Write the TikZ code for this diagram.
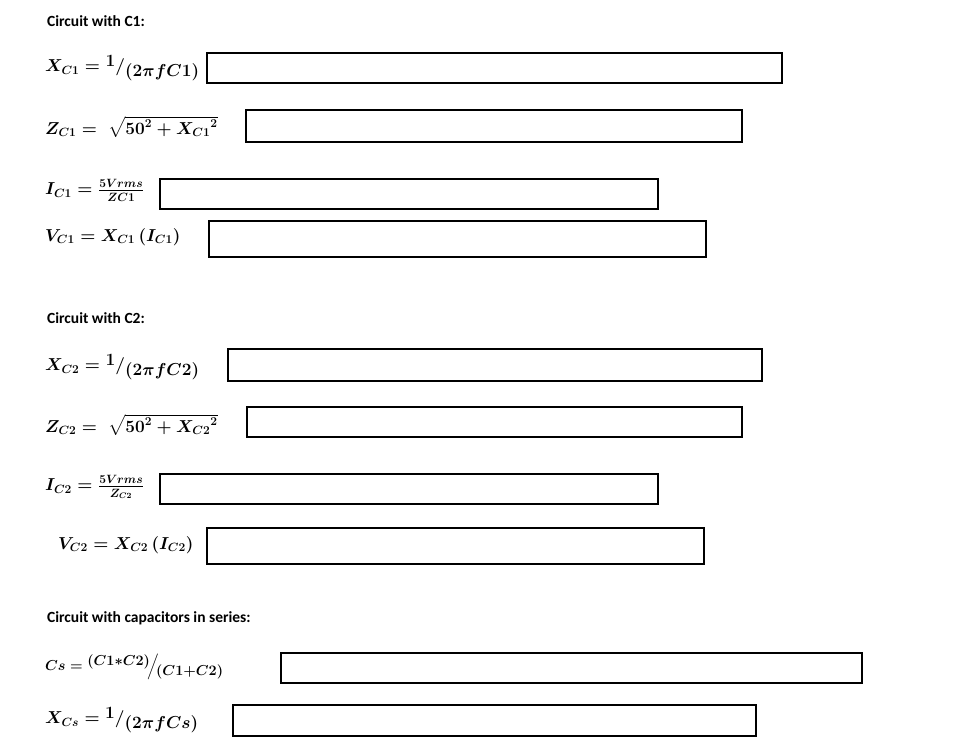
\documentclass[tikz,border=0pt]{standalone}
\usepackage{fontspec}
\usepackage{amsmath}
\newfontfamily\calib{Carlito}
\newcommand{\upp}[1]{\raisebox{5pt}{$\textstyle #1$}}
\newcommand{\dnn}[1]{\raisebox{-5pt}{$\textstyle #1$}}
\begin{document}
\begin{tikzpicture}[x=1pt,y=-1pt,
  ansbox/.style={draw=black,line width=1.6pt},
  head/.style={anchor=west,font=\calib\bfseries\fontsize{15.5}{17}\selectfont,inner sep=0},
  eq/.style={anchor=west,inner sep=0,font=\fontsize{17}{19}\selectfont\boldmath}]
\useasboundingbox (0,0) rectangle (966,742);
\node[head] (h1) at (47,21) {Circuit with C1:};
\node[head] (h2) at (47,318) {Circuit with C2:};
\node[head] (h3) at (47,618) {Circuit with capacitors in series:};
\node[eq] (e1) at (45,68) {$X_{C1}=\upp{\mathbf 1}/\dnn{(\mathbf{2}\pi f C\mathbf1)}$};
\node[eq] (e2) at (45,127) {$Z_{C1}=\;\sqrt{\mathbf{50}^{\mathbf2}+{X_{C1}}^{\mathbf2}}$};
\node[eq] (e3) at (45,190) {$I_{C1}=\frac{\mathbf5 Vrms}{ZC\mathbf1}$};
\node[eq] (e4) at (45,237) {$V_{C1}=X_{C1}\,(I_{C1})$};
\node[eq] (e5) at (45,367) {$X_{C2}=\upp{\mathbf 1}/\dnn{(\mathbf{2}\pi f C\mathbf2)}$};
\node[eq] (e6) at (45,425) {$Z_{C2}=\;\sqrt{\mathbf{50}^{\mathbf2}+{X_{C2}}^{\mathbf2}}$};
\node[eq] (e7) at (45,487) {$I_{C2}=\frac{\mathbf5 Vrms}{Z_{C2}}$};
\node[eq] (e8) at (58,545) {$V_{C2}=X_{C2}\,(I_{C2})$};
\node[eq,font=\fontsize{15}{17}\selectfont\boldmath] (e9) at (45,667) {$Cs=\upp{(C\mathbf1{*}C\mathbf2)}\!\Big/\!\dnn{(C\mathbf1{+}C\mathbf2)}$};
\node[eq] (e10) at (45,720) {$X_{Cs}=\upp{\mathbf 1}/\dnn{(\mathbf{2}\pi f Cs)}$};
\draw[ansbox] (207,53) rectangle (782,83);
\draw[ansbox] (246,110) rectangle (742,142);
\draw[ansbox] (160,179) rectangle (658,209);
\draw[ansbox] (209,221) rectangle (706,257);
\draw[ansbox] (228,349) rectangle (762,381);
\draw[ansbox] (247,407) rectangle (742,437);
\draw[ansbox] (160,474) rectangle (658,504);
\draw[ansbox] (207,528) rectangle (704,564);
\draw[ansbox] (281,653) rectangle (862,683);
\draw[ansbox] (233,705) rectangle (756,736);
\end{tikzpicture}
\end{document}
